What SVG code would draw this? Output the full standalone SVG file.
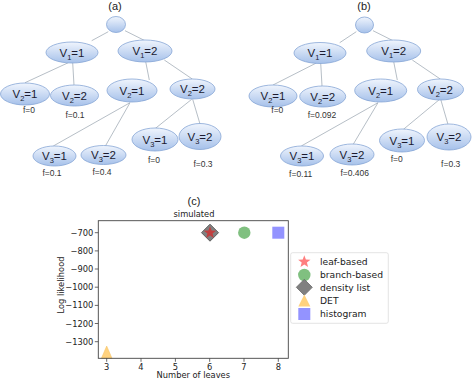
<svg xmlns="http://www.w3.org/2000/svg" width="474" height="379" viewBox="0 0 474 379">
<style>
.nd ellipse{fill:url(#ng);stroke:#86a6d6;stroke-width:0.8}
.nd text{font-family:"Liberation Sans",Arial,sans-serif;font-size:11.5px;fill:#1b1b30;text-anchor:middle}
.sub{font-size:7.5px}
.edges line{stroke:#a3adb8;stroke-width:0.8}
.f{font-family:"Liberation Sans",Arial,sans-serif;font-size:8.5px;fill:#333;text-anchor:middle}
.ttl{font-family:"Liberation Sans",Arial,sans-serif;font-size:11px;fill:#222;text-anchor:middle}
.tk{font-family:"DejaVu Sans",sans-serif;font-size:8.3px;fill:#222}
.ax{font-family:"DejaVu Sans",sans-serif;font-size:8.3px;fill:#222;text-anchor:middle}
.lg{font-family:"DejaVu Sans",sans-serif;font-size:9.2px;fill:#222}
.tm line{stroke:#444;stroke-width:0.8}
</style>
<defs>
<linearGradient id="ng" x1="0" y1="0" x2="0" y2="1">
<stop offset="0" stop-color="#f0f5fd"/>
<stop offset="1" stop-color="#a6c1ea"/>
</linearGradient>
<path id="star" d="M0,-6.5 L1.6,-2.2 L6.2,-2 L2.6,0.85 L3.8,5.25 L0,2.7 L-3.8,5.25 L-2.6,0.85 L-6.2,-2 L-1.6,-2.2 Z"/>
</defs>

<text class="ttl" x="115" y="10">(a)</text>
<text class="ttl" x="364" y="10">(b)</text>

<g class="edges" id="connectors">
<line x1="108.3" y1="31.7" x2="91.7" y2="40.7"/>
<line x1="125" y1="30.7" x2="145" y2="40.7"/>
<line x1="68.3" y1="62.7" x2="25" y2="82.7"/>
<line x1="72.7" y1="62.7" x2="74" y2="85.3"/>
<line x1="145.7" y1="61.7" x2="149.3" y2="80"/>
<line x1="164.3" y1="60" x2="192.7" y2="79.3"/>
<line x1="130" y1="102.7" x2="53.3" y2="146"/>
<line x1="130" y1="102.7" x2="105" y2="146.7"/>
<line x1="191.7" y1="99.3" x2="155" y2="128.7"/>
<line x1="192.7" y1="99.3" x2="200" y2="124"/>

<line x1="356.3" y1="31.7" x2="339.7" y2="42.7"/>
<line x1="373" y1="30.7" x2="393" y2="40.7"/>
<line x1="316.3" y1="63" x2="273" y2="85"/>
<line x1="320.7" y1="63" x2="322" y2="86"/>
<line x1="393.7" y1="61.7" x2="397.3" y2="80"/>
<line x1="412.3" y1="60" x2="440.7" y2="79.3"/>
<line x1="378" y1="102.7" x2="301.3" y2="146"/>
<line x1="378" y1="102.7" x2="353" y2="144.7"/>
<line x1="439.7" y1="99.3" x2="403" y2="129.7"/>
<line x1="440.7" y1="99.3" x2="448" y2="124.5"/>
</g>

<g class="nd" id="a_root"><ellipse cx="116" cy="24.5" rx="9.5" ry="8"/></g>
<g class="nd" id="a_v1_1"><ellipse cx="72" cy="52.5" rx="26" ry="10.5"/><text x="72" y="56.5">V<tspan class="sub" dy="3">1</tspan><tspan dy="-3">=1</tspan></text></g>
<g class="nd" id="a_v1_2"><ellipse cx="145" cy="51" rx="27" ry="11"/><text x="145" y="55">V<tspan class="sub" dy="3">1</tspan><tspan dy="-3">=2</tspan></text></g>
<g class="nd" id="a_v2_1a"><ellipse cx="25" cy="94" rx="24.5" ry="11"/><text x="25" y="98">V<tspan class="sub" dy="3">2</tspan><tspan dy="-3">=1</tspan></text></g>
<g class="nd" id="a_v2_2a"><ellipse cx="74.5" cy="95.5" rx="24" ry="10.5"/><text x="74.5" y="99.5">V<tspan class="sub" dy="3">2</tspan><tspan dy="-3">=2</tspan></text></g>
<g class="nd" id="a_v2_1b"><ellipse cx="132" cy="90.5" rx="25" ry="11.5"/><text x="132" y="94.5">V<tspan class="sub" dy="3">2</tspan><tspan dy="-3">=1</tspan></text></g>
<g class="nd" id="a_v2_2b"><ellipse cx="192.5" cy="89" rx="22.5" ry="10"/><text x="192.5" y="93">V<tspan class="sub" dy="3">2</tspan><tspan dy="-3">=2</tspan></text></g>
<g class="nd" id="a_v3_1a"><ellipse cx="54.5" cy="156" rx="21.5" ry="10"/><text x="54.5" y="160">V<tspan class="sub" dy="3">3</tspan><tspan dy="-3">=1</tspan></text></g>
<g class="nd" id="a_v3_2a"><ellipse cx="103.5" cy="155" rx="22.5" ry="9.5"/><text x="103.5" y="159">V<tspan class="sub" dy="3">3</tspan><tspan dy="-3">=2</tspan></text></g>
<g class="nd" id="a_v3_1b"><ellipse cx="155" cy="139.5" rx="23" ry="11.5"/><text x="155" y="143.5">V<tspan class="sub" dy="3">3</tspan><tspan dy="-3">=1</tspan></text></g>
<g class="nd" id="a_v3_2b"><ellipse cx="200" cy="136.5" rx="21" ry="13"/><text x="200" y="140.5">V<tspan class="sub" dy="3">3</tspan><tspan dy="-3">=2</tspan></text></g>

<text class="f" x="29" y="113">f=0</text>
<text class="f" x="75" y="118">f=0.1</text>
<text class="f" x="52" y="176">f=0.1</text>
<text class="f" x="102" y="175">f=0.4</text>
<text class="f" x="154" y="163">f=0</text>
<text class="f" x="203" y="167">f=0.3</text>

<g class="nd" id="b_root"><ellipse cx="364.5" cy="25" rx="9" ry="8"/></g>
<g class="nd" id="b_v1_1"><ellipse cx="320" cy="53" rx="26" ry="10.5"/><text x="320" y="57">V<tspan class="sub" dy="3">1</tspan><tspan dy="-3">=1</tspan></text></g>
<g class="nd" id="b_v1_2"><ellipse cx="393.7" cy="51" rx="27" ry="11"/><text x="393.7" y="55">V<tspan class="sub" dy="3">1</tspan><tspan dy="-3">=2</tspan></text></g>
<g class="nd" id="b_v2_1a"><ellipse cx="273" cy="96" rx="24" ry="11"/><text x="273" y="100">V<tspan class="sub" dy="3">2</tspan><tspan dy="-3">=1</tspan></text></g>
<g class="nd" id="b_v2_2a"><ellipse cx="322.7" cy="96.5" rx="23" ry="10.5"/><text x="322.7" y="100.5">V<tspan class="sub" dy="3">2</tspan><tspan dy="-3">=2</tspan></text></g>
<g class="nd" id="b_v2_1b"><ellipse cx="380.7" cy="90.5" rx="26" ry="11.5"/><text x="380.7" y="94.5">V<tspan class="sub" dy="3">2</tspan><tspan dy="-3">=1</tspan></text></g>
<g class="nd" id="b_v2_2b"><ellipse cx="440.5" cy="89.5" rx="23" ry="10.5"/><text x="440.5" y="93.5">V<tspan class="sub" dy="3">2</tspan><tspan dy="-3">=2</tspan></text></g>
<g class="nd" id="b_v3_1a"><ellipse cx="302" cy="156" rx="21.5" ry="10"/><text x="302" y="160">V<tspan class="sub" dy="3">3</tspan><tspan dy="-3">=1</tspan></text></g>
<g class="nd" id="b_v3_2a"><ellipse cx="352" cy="154.5" rx="22" ry="10.5"/><text x="352" y="158.5">V<tspan class="sub" dy="3">3</tspan><tspan dy="-3">=2</tspan></text></g>
<g class="nd" id="b_v3_1b"><ellipse cx="402" cy="140.5" rx="22.5" ry="11.5"/><text x="402" y="144.5">V<tspan class="sub" dy="3">3</tspan><tspan dy="-3">=1</tspan></text></g>
<g class="nd" id="b_v3_2b"><ellipse cx="449" cy="137" rx="22" ry="13"/><text x="449" y="141">V<tspan class="sub" dy="3">3</tspan><tspan dy="-3">=2</tspan></text></g>

<text class="f" x="277.3" y="113">f=0</text>
<text class="f" x="322" y="118">f=0.092</text>
<text class="f" x="300.7" y="177">f=0.11</text>
<text class="f" x="354.7" y="176">f=0.406</text>
<text class="f" x="396.7" y="162">f=0</text>
<text class="f" x="450.7" y="167">f=0.3</text>

<!-- plot (c) -->
<text class="ttl" x="194" y="205">(c)</text>
<text class="ax" x="194" y="217">simulated</text>

<g id="plot">
<polygon points="106.7,346 101.4,358.3 112,358.3" fill="#ffd27f" stroke="#f5c060" stroke-width="0.5"/>
<polygon points="210,224.2 218.5,232.7 210,241.2 201.5,232.7" fill="#808080" stroke="#5e5e5e" stroke-width="1"/>
<use href="#star" x="210" y="232.7" fill="#ff0000" fill-opacity="0.5"/>
<circle cx="244.3" cy="232.7" r="6.2" fill="#80c080"/>
<rect x="272.3" y="226.7" width="12" height="12" fill="#8080ff" fill-opacity="0.85"/>
<rect x="98.3" y="220.7" width="190" height="137.6" fill="none" stroke="#444" stroke-width="0.9"/>
</g>

<g class="tm">
<line x1="94.8" y1="232.7" x2="98.3" y2="232.7"/>
<line x1="94.8" y1="250.9" x2="98.3" y2="250.9"/>
<line x1="94.8" y1="269" x2="98.3" y2="269"/>
<line x1="94.8" y1="287.2" x2="98.3" y2="287.2"/>
<line x1="94.8" y1="305.4" x2="98.3" y2="305.4"/>
<line x1="94.8" y1="323.5" x2="98.3" y2="323.5"/>
<line x1="94.8" y1="341.7" x2="98.3" y2="341.7"/>
<line x1="106.7" y1="358.3" x2="106.7" y2="361.8"/>
<line x1="141" y1="358.3" x2="141" y2="361.8"/>
<line x1="175.4" y1="358.3" x2="175.4" y2="361.8"/>
<line x1="209.7" y1="358.3" x2="209.7" y2="361.8"/>
<line x1="244" y1="358.3" x2="244" y2="361.8"/>
<line x1="278.3" y1="358.3" x2="278.3" y2="361.8"/>
</g>
<g class="tk" text-anchor="end">
<text x="93.3" y="235.7">−700</text>
<text x="93.3" y="253.9">−800</text>
<text x="93.3" y="272">−900</text>
<text x="93.3" y="290.2">−1000</text>
<text x="93.3" y="308.4">−1100</text>
<text x="93.3" y="326.5">−1200</text>
<text x="93.3" y="344.7">−1300</text>
</g>
<g class="tk" text-anchor="middle">
<text x="106.7" y="369.5">3</text>
<text x="141" y="369.5">4</text>
<text x="175.4" y="369.5">5</text>
<text x="209.7" y="369.5">6</text>
<text x="244" y="369.5">7</text>
<text x="278.3" y="369.5">8</text>
</g>
<text class="ax" x="193.3" y="378">Number of leaves</text>
<text class="ax" transform="translate(63.5,285) rotate(-90)">Log likelihood</text>

<g id="legend">
<rect x="290.7" y="252.7" width="97.6" height="70.6" rx="2" fill="#fff" stroke="#dcdcdc" stroke-width="0.8"/>
<use href="#star" x="304.3" y="261.7" fill="#ff0000" fill-opacity="0.5"/>
<circle cx="304.3" cy="275" r="6.2" fill="#80c080"/>
<polygon points="304.3,279.3 312.3,287.3 304.3,295.3 296.3,287.3" fill="#808080" stroke="#6a6a6a" stroke-width="0.8"/>
<polygon points="304.3,294.5 298.3,306.5 310.3,306.5" fill="#ffd27f"/>
<rect x="298.3" y="308" width="12" height="12" fill="#8080ff" fill-opacity="0.85"/>
<text class="lg" x="320" y="265">leaf-based</text>
<text class="lg" x="320" y="278.3">branch-based</text>
<text class="lg" x="320" y="290.6">density list</text>
<text class="lg" x="320" y="304">DET</text>
<text class="lg" x="320" y="317.3">histogram</text>
</g>
</svg>
